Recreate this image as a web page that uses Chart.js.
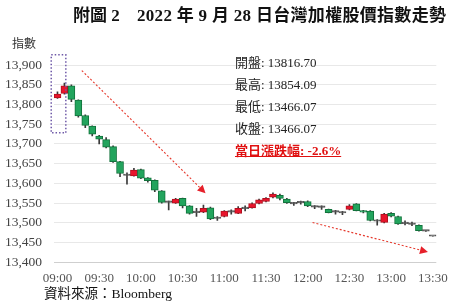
<!DOCTYPE html>
<html><head><meta charset="utf-8">
<script src="https://cdn.jsdelivr.net/npm/chart.js@4/dist/chart.umd.min.js"></script>
<style>
html,body{margin:0;padding:0;background:#fff;}
#wrap{position:relative;width:474px;height:303px;overflow:hidden;}
canvas{position:absolute;left:0;top:0;}
.t{position:absolute;white-space:pre;font-family:"Liberation Serif","Noto Sans CJK TC",serif;}
</style></head>
<body><div id="wrap">
<canvas id="c" width="474" height="303"></canvas>
<div class="t" style="left:73px;top:6px;font-size:17px;font-weight:bold;color:#111;line-height:20px;">附圖 2</div>
<div class="t" style="left:137px;top:6px;font-size:17px;font-weight:bold;color:#111;line-height:20px;letter-spacing:0.3px;">2022 年 9 月 28 日台灣加權股價指數走勢</div>
<div class="t" style="left:12px;top:36px;font-size:12px;color:#333;line-height:16px;">指數</div>
<div class="t" id="stats" style="left:235px;top:52px;font-size:13px;color:#222;line-height:22px;"></div>
<div class="t" style="left:44px;top:285px;font-size:13.5px;color:#111;line-height:18px;">資料來源：Bloomberg</div>
</div>
<script>
// ---- data ----
const times = ["09:00","09:05","09:10","09:15","09:20","09:25","09:30","09:35","09:40","09:45","09:50","09:55",
"10:00","10:05","10:10","10:15","10:20","10:25","10:30","10:35","10:40","10:45","10:50","10:55",
"11:00","11:05","11:10","11:15","11:20","11:25","11:30","11:35","11:40","11:45","11:50","11:55",
"12:00","12:05","12:10","12:15","12:20","12:25","12:30","12:35","12:40","12:45","12:50","12:55",
"13:00","13:05","13:10","13:15","13:20","13:25","13:30"];
const opens  = [13816.7,13828,13847,13811,13772,13745,13720,13711,13693,13655,13620,13619,
13635,13614,13608,13581,13553,13550,13562,13543,13527,13527,13538,13512,
13516,13527,13524,13536,13538,13549,13554,13565,13570,13560,13549,13551,
13554,13541,13540,13534,13528,13526,13534,13548,13531,13530,13505,13501,
13524,13516,13499,13497,13494,13479,13466.07];
const highs  = [13832,13854.09,13850,13812,13774,13746,13722,13716,13695,13656,13627,13638,
13636,13615,13609,13582,13555,13562,13563,13544,13537,13545,13540,13516,
13531,13533,13541,13543,13551,13560,13564,13576,13573,13562,13552,13555,
13556,13544,13543,13535,13532,13529,13546,13549,13532,13531,13508,13524,
13526,13517,13505,13502,13495,13480,13466.07];
const lows   = [13815,13826,13807,13768,13741,13720,13700,13690,13653,13617,13598,13618,
13612,13603,13579,13550,13533,13549,13538,13522,13516,13526,13508,13506,
13515,13522,13523,13530,13537,13548,13553,13563,13558,13549,13544,13547,
13541,13536,13534,13525,13522,13521,13533,13530,13525,13505,13494,13500,
13515,13496,13495,13493,13479,13478,13466.07];
const closes = [13826,13847,13813,13771,13747,13725,13712,13692,13655,13625,13621,13634,
13613,13607,13583,13552,13552,13560,13543,13524,13526,13537,13510,13511,
13530,13528,13537,13538,13549,13558,13562,13573,13562,13551,13548,13552,
13543,13540,13539,13526,13527,13525,13543,13531,13527,13506,13504,13522,
13517,13497,13498,13496,13480,13479,13466.07];
const yTicks = [13400,13450,13500,13550,13600,13650,13700,13750,13800,13850,13900];
const statLines = ["開盤: 13816.70","最高: 13854.09","最低: 13466.07","收盤: 13466.07"];
const changeLine = "當日漲跌幅: -2.6%";
// annotations in data units (category index, index value)
const focusBox = {x0:-0.9, x1:1.2, y0:13728, y1:13926};
const arrows = [{x0:3.5,y0:13886,x1:21.3,y1:13575},{x0:36.7,y0:13501,x1:53.3,y1:13426}];

// ---- stats text ----
const st = document.getElementById('stats');
st.innerHTML = statLines.map(s=>'<div>'+s+'</div>').join('') +
 '<div style="color:#e01010;font-weight:bold;text-decoration:underline;">'+changeLine+'</div>';

// ---- colours ----
const RED='#e8142c', REDB='#b0101f', GRN='#22a45d', GRNB='#12723c', DOJI='#555';
function isDoji(i){return Math.abs(closes[i]-opens[i])<2.5;}
const bodyFill = times.map((t,i)=> isDoji(i)?DOJI:(closes[i]>opens[i]?RED:GRN));
const bodyBorder = times.map((t,i)=> isDoji(i)?DOJI:(closes[i]>opens[i]?REDB:GRNB));

const annot = {
  id:'annot',
  afterDatasetsDraw(chart){
    const {ctx, scales:{x,y}} = chart;
    ctx.save();
    ctx.strokeStyle='#6f5aa8'; ctx.lineWidth=1.5; ctx.setLineDash([1.5,2]);
    const bx0=x.getPixelForValue(focusBox.x0), bx1=x.getPixelForValue(focusBox.x1);
    const by0=y.getPixelForValue(focusBox.y1), by1=y.getPixelForValue(focusBox.y0);
    ctx.strokeRect(bx0,by0,bx1-bx0,by1-by0);
    ctx.strokeStyle='#e63a2e'; ctx.fillStyle='#e6202a'; ctx.lineWidth=1.1; ctx.setLineDash([2,2]);
    arrows.forEach(a=>{
      const px0=x.getPixelForValue(a.x0), py0=y.getPixelForValue(a.y0);
      const px1=x.getPixelForValue(a.x1), py1=y.getPixelForValue(a.y1);
      const ang=Math.atan2(py1-py0,px1-px0);
      const L=8, W=4;
      const ex=px1-Math.cos(ang)*L, ey=py1-Math.sin(ang)*L;
      ctx.beginPath(); ctx.moveTo(px0,py0); ctx.lineTo(ex,ey); ctx.stroke();
      ctx.setLineDash([]);
      ctx.beginPath();
      ctx.moveTo(px1,py1);
      ctx.lineTo(ex+Math.sin(ang)*W, ey-Math.cos(ang)*W);
      ctx.lineTo(ex-Math.sin(ang)*W, ey+Math.cos(ang)*W);
      ctx.closePath(); ctx.fill();
      ctx.setLineDash([2,2]);
    });
    ctx.restore();
  }
};

new Chart(document.getElementById('c'), {
  type:'bar',
  data:{
    labels: times,
    datasets:[
      {label:'body', data: times.map((t,i)=>[opens[i],closes[i]]), backgroundColor: bodyFill, borderColor: bodyBorder,
       borderWidth:1, borderSkipped:false, barThickness:7, minBarLength:1.5, grouped:false, order:0},
      {label:'wick', data: times.map((t,i)=>[lows[i],highs[i]]), backgroundColor:'#3a3a3a', borderWidth:0,
       barThickness:1, grouped:false, order:1}
    ]
  },
  options:{
    responsive:false, animation:false, devicePixelRatio:1,
    layout:{padding:{left:0,right:37.7,top:65,bottom:15.7}},
    plugins:{legend:{display:false}, tooltip:{enabled:false}, title:{display:false}},
    scales:{
      x:{
        grid:{display:false, drawTicks:false}, border:{display:false},
        ticks:{autoSkip:false, maxRotation:0, padding:8, color:'#555',
          font:{family:'"Liberation Serif", serif', size:13},
          callback:(v,i)=> i%6===0 ? times[i] : ''},
        afterFit:(s)=>{s.height=25;}
      },
      y:{
        min:13400, max:13900,
        afterBuildTicks:(s)=>{s.ticks = yTicks.map(v=>({value:v}));},
        grid:{color:(c)=> c.tick && c.tick.value===13400 ? '#cfcfcf' : '#e8e8e8', drawTicks:false, lineWidth:1},
        border:{display:false},
        ticks:{padding:12, color:'#444', font:{family:'"Liberation Serif", serif', size:13.5},
          callback:(v)=> v.toLocaleString('en-US')},
        afterFit:(s)=>{s.width=54;}
      }
    }
  },
  plugins:[annot]
});
</script>
</body></html>
